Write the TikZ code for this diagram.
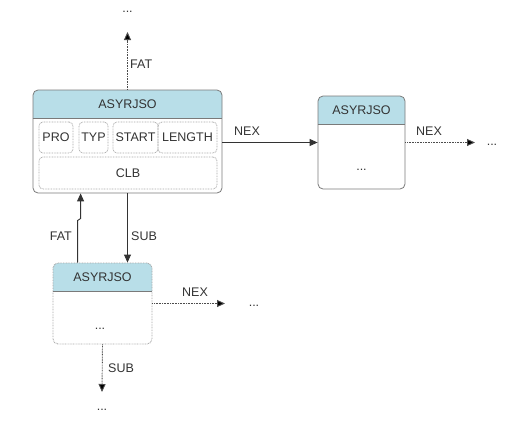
\documentclass[tikz,border=0pt]{standalone}
\usepackage{fontspec}
\setmainfont{Liberation Sans}
\usetikzlibrary{arrows.meta,calc}
\definecolor{hdrblue}{HTML}{B8DEE8}
\definecolor{bordergray}{HTML}{7A7A7A}
\definecolor{dotgray}{HTML}{A8A8A8}
\definecolor{txt}{HTML}{333333}
\tikzset{
  every node/.style={font=\fontsize{12.5}{14}\selectfont, text=txt},
  frame/.style={draw=bordergray, line width=0.8pt, rounded corners=5pt, minimum width=#1, inner sep=0pt},
  dframe/.style={draw=dotgray, line width=0.9pt, dash pattern=on 0.8pt off 0.8pt, rounded corners=5pt, inner sep=0pt},
  field/.style={draw=dotgray, line width=0.8pt, dash pattern=on 0.8pt off 0.8pt, rounded corners=4pt, inner sep=0pt, minimum height=31pt},
  hdrfill/.style={fill=hdrblue},
  solidarr/.style={draw=black!80, line width=0.9pt, -{Triangle[length=8pt,width=7pt]}},
  dotarr/.style={draw=black!70, line width=0.9pt, dash pattern=on 0.8pt off 0.8pt, -{Triangle[length=8pt,width=7pt,fill=black]}},
  lbl/.style={inner sep=0pt},
}
\begin{document}
\begin{tikzpicture}[x=1pt,y=1pt]
\useasboundingbox (0,0) rectangle (517,-429);
% ---------- main box
\fill[hdrfill] (33,-118) [rounded corners=5pt] -- (33,-90) -- (222,-90) [sharp corners] -- (222,-118) -- cycle;
\node[frame=189pt, minimum height=103pt] (main) at (127.5,-141.5) {};
\draw[bordergray, line width=0.8pt] (main.west |- 0,-118) -- (main.east |- 0,-118);
\node (mainh) at (127.5,-104) {ASYRJSO};
\node[field, minimum width=34pt] (pro) at (56,-137.5) {PRO};
\node[field, minimum width=29pt] (typ) at (93.5,-137.5) {TYP};
\node[field, minimum width=45pt] (start) at (135.5,-137.5) {START};
\node[field, minimum width=59pt] (length) at (187.5,-137.5) {LENGTH};
\node[field, minimum width=178pt, minimum height=32pt] (clb) at (128,-173) {CLB};
% ---------- right box
\fill[hdrfill] (318,-124) [rounded corners=5pt] -- (318,-96) -- (405,-96) [sharp corners] -- (405,-124) -- cycle;
\node[frame=87pt, minimum height=93pt] (right) at (361.5,-142.5) {};
\draw[bordergray, line width=0.8pt] (right.west |- 0,-124) -- (right.east |- 0,-124);
\node (righth) at (361.5,-110) {ASYRJSO};
\node (rightd) at (361.5,-170) {...};
% ---------- bottom box
\fill[hdrfill] (53,-291) [rounded corners=5pt] -- (53,-263) -- (152,-263) [sharp corners] -- (152,-291) -- cycle;
\node[dframe, minimum width=99pt, minimum height=81pt] (sub) at (102.5,-303.5) {};
\draw[bordergray, line width=0.8pt] (sub.west |- 0,-291) -- (sub.east |- 0,-291);
\node (subh) at (102.5,-277) {ASYRJSO};
\node (subd) at (100,-329) {...};
% ---------- outer ellipses and end points
\node (topd) at (127.5,-12) {...};
\coordinate (topend) at (127.5,-32);
\node (rightdd) at (492,-145) {...};
\coordinate (rightend) at (475,-142.5);
\node (subrd) at (254,-306) {...};
\coordinate (subrend) at (225,-303.5);
\node (botd) at (102,-410) {...};
\coordinate (botend) at (102,-392);
% ---------- connectors
\draw[dotarr] (main.north) -- (topend);
\node[lbl, anchor=west] (fat1) at (130,-64) {FAT};
\draw[solidarr] (main.east |- right.west) -- (right.west);
\node[lbl] (nex1) at (247,-131) {NEX};
\draw[dotarr] (right.east) -- (rightend);
\node[lbl] (nex2) at (429,-131) {NEX};
\draw[solidarr] (main.south) -- (main.south |- sub.north);
\node[lbl, anchor=west] (sub1) at (131,-236) {SUB};
\coordinate (fatstart) at ($(sub.north west)+(25,0)$);
\coordinate (fattarget) at ($(main.south west)+(48,0)$);
\draw[solidarr] (fatstart) -- ++(0,42) -- ++(3,2) -- (fattarget);
\node[lbl, anchor=east] (fat2) at (72,-236) {FAT};
\draw[dotarr] (sub.east) -- (subrend);
\node[lbl] (nex3) at (195,-292) {NEX};
\draw[dotarr] (sub.south) -- (botend);
\node[lbl, anchor=west] (sub2) at (108,-368) {SUB};
\end{tikzpicture}
\end{document}
